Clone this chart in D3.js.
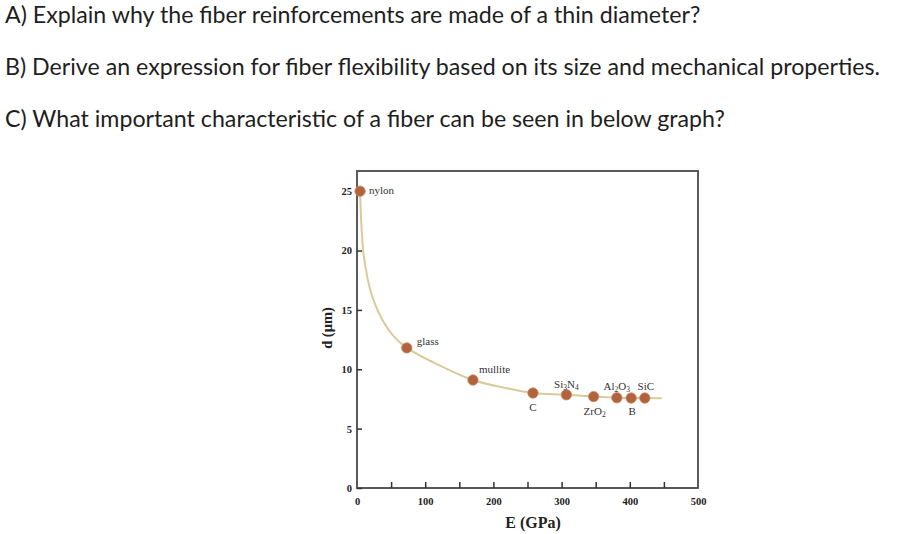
<!DOCTYPE html>
<html>
<head>
<meta charset="utf-8">
<script src="https://cdn.jsdelivr.net/npm/d3@7"></script>
<style>
  html, body { margin: 0; padding: 0; background: #fff; }
  svg { display: block; }
</style>
</head>
<body>
<svg id="chart" width="921" height="534"></svg>
<script>
// question text above the graph
const questions = [
  "A) Explain why the fiber reinforcements are made of a thin diameter?",
  "B) Derive an expression for fiber flexibility based on its size and mechanical properties.",
  "C) What important characteristic of a fiber can be seen in below graph?"
];

// fibers: modulus E (GPa) vs diameter d (um)
const fibers = ["nylon", "glass", "mullite", "C", "Si3N4", "ZrO2", "Al2O3", "B", "SiC"];
const fiberE = [4.5, 73, 170, 258, 307, 347, 381, 402, 422];
const fiberD = [25, 11.8, 9.1, 8.0, 7.85, 7.7, 7.6, 7.58, 7.58];

// trend curve
const curveE = [4.5, 6, 9.2, 12.8, 17.6, 25, 36, 52, 73, 122, 170, 220, 258, 307, 347, 381, 402, 422, 447];
const curveD = [25, 22.7, 19.9, 18.5, 17.1, 15.7, 14.3, 12.9, 11.8, 10.3, 9.1, 8.4, 8.0, 7.85, 7.7, 7.6, 7.58, 7.58, 7.55];

const xTicks = [0, 100, 200, 300, 400, 500];
const xMinorTicks = [50, 100, 150, 200, 250, 300, 350, 400, 450];
const yTicks = [0, 5, 10, 15, 20, 25];

// label placement: [dx, dy, anchor]
const labelPos = {
  "nylon":  [9, 3, "start"],
  "glass":  [10, -3, "start"],
  "mullite":[6, -7, "start"],
  "C":      [0, 18, "middle"],
  "Si3N4":  [0, -7, "middle"],
  "ZrO2":   [1, 18, "middle"],
  "Al2O3":  [0, -8, "middle"],
  "B":      [1, 17, "middle"],
  "SiC":    [1, -8, "middle"]
};

const svg = d3.select("#chart");

svg.selectAll("text.q")
  .data(questions)
  .enter()
  .append("text")
    .attr("class", "q")
    .attr("x", 5)
    .attr("y", (d, i) => [23, 75, 127][i])
    .style("font-family", "Lato")
    .style("font-size", "23.2px")
    .attr("fill", "#1e1e1e")
    .text(d => d);

const plotL = 357, plotR = 698, plotT = 171, plotB = 488;

const x = d3.scaleLinear().domain([0, 500]).range([plotL, plotR]);
const y = d3.scaleLinear().domain([0, 26.7]).range([plotB, plotT]);

const serif = "'Liberation Serif', 'Times New Roman', serif";

// frame
svg.append("rect")
  .attr("x", plotL)
  .attr("y", plotT)
  .attr("width", plotR - plotL)
  .attr("height", plotB - plotT)
  .attr("fill", "none")
  .attr("stroke", "#4a4a4a")
  .attr("stroke-width", 1.8);

// x tick marks pointing inward
svg.append("g")
  .attr("transform", `translate(0,${plotB})`)
  .call(d3.axisTop(x).tickValues(xMinorTicks).tickSize(6).tickFormat(""))
  .call(g => g.select(".domain").remove())
  .selectAll("line").attr("stroke", "#333").attr("stroke-width", 1.5);

// x tick labels
svg.append("g")
  .attr("transform", `translate(0,${plotB})`)
  .call(d3.axisBottom(x).tickValues(xTicks).tickSize(0).tickPadding(10).tickFormat(d3.format("d")))
  .call(g => g.select(".domain").remove())
  .selectAll("text")
    .style("font-family", serif)
    .style("font-size", "10.5px")
    .style("font-weight", "bold")
    .attr("fill", "#222");

// y axis
svg.append("g")
  .attr("transform", `translate(${plotL},0)`)
  .call(d3.axisRight(y).tickValues(yTicks).tickSize(5).tickFormat(d3.format("d")))
  .call(g => g.select(".domain").remove())
  .call(g => g.selectAll("line").attr("stroke", "#333").attr("stroke-width", 1.5))
  .selectAll("text")
    .attr("x", -5)
    .attr("text-anchor", "end")
    .style("font-family", serif)
    .style("font-size", "10.5px")
    .style("font-weight", "bold")
    .attr("fill", "#222");

// axis titles
svg.append("text")
  .attr("x", 533)
  .attr("y", 528)
  .attr("text-anchor", "middle")
  .style("font-family", serif)
  .style("font-size", "16px")
  .style("font-weight", "bold")
  .attr("fill", "#222")
  .text("E (GPa)");

svg.append("text")
  .attr("transform", "translate(332,328) rotate(-90)")
  .attr("text-anchor", "middle")
  .style("font-family", serif)
  .style("font-size", "14.5px")
  .style("font-weight", "bold")
  .attr("fill", "#222")
  .text("d (\u03bcm)");

// curve
const curve = curveE.map((e, i) => [e, curveD[i]]);
svg.append("path")
  .datum(curve)
  .attr("fill", "none")
  .attr("stroke", "#d9ca9b")
  .attr("stroke-width", 2)
  .attr("d", d3.line().x(d => x(d[0])).y(d => y(d[1])).curve(d3.curveCatmullRom.alpha(0.5)));

// points
svg.selectAll("circle.fiber")
  .data(fibers)
  .enter()
  .append("circle")
    .attr("class", "fiber")
    .attr("cx", (d, i) => x(fiberE[i]))
    .attr("cy", (d, i) => y(fiberD[i]))
    .attr("r", 5.2)
    .attr("fill", "#b2633d")
    .attr("stroke", "#c98a66")
    .attr("stroke-width", 0.8);

// labels with subscripts
const labels = svg.selectAll("text.lbl")
  .data(fibers)
  .enter()
  .append("text")
    .attr("class", "lbl")
    .attr("x", (d, i) => x(fiberE[i]) + labelPos[d][0])
    .attr("y", (d, i) => y(fiberD[i]) + labelPos[d][1])
    .attr("text-anchor", d => labelPos[d][2])
    .style("font-family", serif)
    .style("font-size", "11px")
    .attr("fill", "#333");

labels.each(function(d) {
  const t = d3.select(this);
  const parts = d.match(/[A-Za-z]+|\d+/g);
  let shift = 0;
  parts.forEach(p => {
    if (/^\d+$/.test(p)) {
      t.append("tspan").attr("dy", 2.5).style("font-size", "7.5px").text(p);
      shift = -2.5;
    } else {
      t.append("tspan").attr("dy", shift).text(p);
      shift = 0;
    }
  });
});
</script>
</body>
</html>
